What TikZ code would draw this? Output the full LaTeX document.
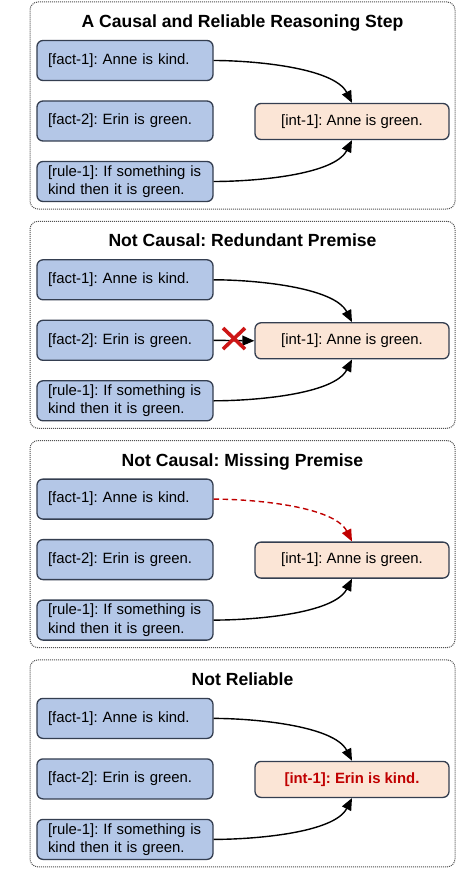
\documentclass[tikz,border=0pt]{standalone}
\usepackage{fontspec}
\setmainfont{Liberation Sans}
\usetikzlibrary{arrows.meta,calc}
\definecolor{boxblue}{RGB}{180,199,231}
\definecolor{boxedge}{RGB}{52,62,80}
\definecolor{peach}{RGB}{251,229,214}
\definecolor{darkred}{RGB}{192,0,0}
\definecolor{crossred}{RGB}{205,22,22}
\definecolor{panelgray}{RGB}{80,80,80}
\begin{document}
\frenchspacing
\begin{tikzpicture}[x=1pt,y=-1pt,
  panel/.style={draw=panelgray, densely dotted, line width=1pt, rounded corners=8pt, minimum width=425pt, minimum height=207pt, inner sep=0pt},
  premise/.style={draw=boxedge, fill=boxblue, line width=1.3pt, rounded corners=6pt, text width=156pt, inner xsep=10pt, inner ysep=0pt, minimum height=40pt, align=left, font=\fontsize{14.9}{18.5}\selectfont\frenchspacing},
  inter/.style={draw=boxedge, fill=peach, line width=1.3pt, rounded corners=6pt, minimum width=194pt, minimum height=36pt, inner sep=0pt, align=center, font=\fontsize{14.9}{18.5}\selectfont\frenchspacing},
  ptitle/.style={font=\fontsize{17.6}{21}\selectfont\bfseries\frenchspacing, inner sep=0pt, anchor=base},
  link/.style={line width=1.4pt, -{Triangle[length=12pt,width=10pt]}},
  down/.style={out=0, in=117, looseness=0.7},
  up/.style={out=0, in=-117, looseness=0.7},
  cross/.style={draw=crossred, line width=3.6pt},
]
\useasboundingbox (0,0) rectangle (474,896);
\fill[white] (0,0) rectangle (474,896);
\foreach \k/\ttl/\itxt in {
  0/{A Causal and Reliable Reasoning Step}/{[int-1]: Anne is green.},
  1/{Not Causal: Redundant Premise}/{[int-1]: Anne is green.},
  2/{Not Causal: Missing Premise}/{[int-1]: Anne is green.},
  3/{Not Reliable}/{\textcolor{darkred}{\bfseries [int-1]: Erin is kind.}}} {
  \pgfmathsetmacro\t{2+219.3*\k}
  \node[panel] (p-\k) at (242.5,\t+103.5) {};
  \node[ptitle] (t-\k) at (242.5,\t+25.5) {\ttl};
  \node[premise] (fa-\k) at (125,\t+58.5) {\hspace*{1pt}[fact-1]: Anne is kind.};
  \node[premise] (fb-\k) at (125,\t+119) {\hspace*{1pt}[fact-2]: Erin is green.};
  \node[premise] (r-\k) at (125,\t+179.5) {\hspace*{1pt}[rule-1]: If something is\\\hspace*{1pt}kind then it is green.};
  \node[inter] (i-\k) at (352,\t+119.5) {\itxt};
}
% panel 1
\draw[link] (fa-0.east) to[down] (i-0.north);
\draw[link] (r-0.east) to[up] (i-0.south);
% panel 2
\draw[link] (fa-1.east) to[down] (i-1.north);
\draw[link] (r-1.east) to[up] (i-1.south);
\draw[link] (fb-1.east) -- (i-1.west);
\coordinate (x-1) at ($(fb-1.east)!0.5!(i-1.west)+(0,-2)$);
\draw[cross] ($(x-1)+(-11,-10.5)$) -- ($(x-1)+(11,10.5)$);
\draw[cross] ($(x-1)+(-11,10.5)$) -- ($(x-1)+(11,-10.5)$);
% panel 3
\draw[link, darkred, dash pattern=on 5.5pt off 3.5pt] (fa-2.east) to[down] (i-2.north);
\draw[link] (r-2.east) to[up] (i-2.south);
% panel 4
\draw[link] (fa-3.east) to[down] (i-3.north);
\draw[link] (r-3.east) to[up] (i-3.south);
\end{tikzpicture}
\end{document}
